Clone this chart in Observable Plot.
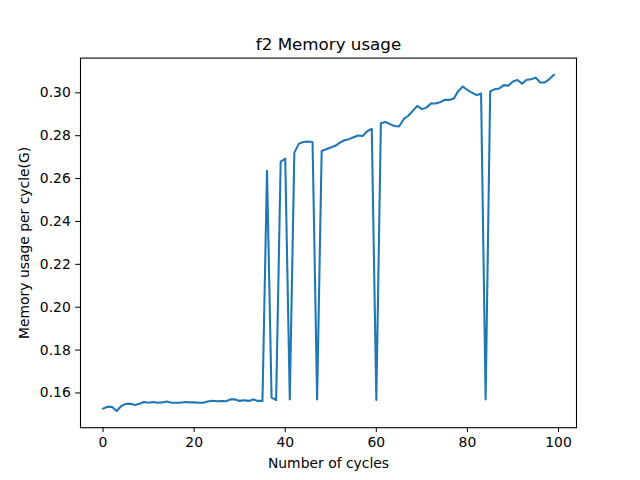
<!DOCTYPE html>
<html>
<head>
<meta charset="utf-8">
<script src="https://cdn.jsdelivr.net/npm/d3@7"></script>
<script src="https://cdn.jsdelivr.net/npm/@observablehq/plot@0.6"></script>
<style>
body { margin: 0; background: #fff; }
svg { font-family: "DejaVu Sans", sans-serif; }
</style>
</head>
<body>
<div id="chart"></div>
<script>
const cycles = d3.range(0, 100);
const memory = [
  0.1527, 0.1536, 0.1535, 0.1516, 0.1539, 0.1549, 0.1550, 0.1544, 0.1550, 0.1558,
  0.1554, 0.1558, 0.1554, 0.1556, 0.1560, 0.1554, 0.1554, 0.1554, 0.1558, 0.1556,
  0.1556, 0.1554, 0.1554, 0.1560, 0.1564, 0.1561, 0.1562, 0.1561, 0.1570, 0.1570,
  0.1563, 0.1566, 0.1563, 0.1570, 0.1563, 0.1563, 0.2636, 0.1578, 0.1567, 0.2679,
  0.2693, 0.1570, 0.2721, 0.2763, 0.2771, 0.2773, 0.2771, 0.1570, 0.2729, 0.2737,
  0.2745, 0.2753, 0.2768, 0.2779, 0.2784, 0.2793, 0.2801, 0.2799, 0.2821, 0.2832,
  0.1567, 0.2858, 0.2864, 0.2854, 0.2845, 0.2843, 0.2877, 0.2893, 0.2916, 0.2939,
  0.2924, 0.2931, 0.2950, 0.2950, 0.2956, 0.2967, 0.2967, 0.2973, 0.3009, 0.3029,
  0.3013, 0.3001, 0.2989, 0.2997, 0.1570, 0.3006, 0.3017, 0.3020, 0.3036, 0.3033,
  0.3053, 0.3060, 0.3043, 0.3061, 0.3063, 0.3071, 0.3048, 0.3048, 0.3064, 0.3084
];
const xTicks = [0, 20, 40, 60, 80, 100];
const yTicks = [0.16, 0.18, 0.20, 0.22, 0.24, 0.26, 0.28, 0.30];
const title = "f2 Memory usage";
const xLabel = "Number of cycles";
const yLabel = "Memory usage per cycle(G)";

const data = cycles.map((c, i) => ({cycle: c, mem: memory[i]}));

const chart = Plot.plot({
  width: 640,
  height: 480,
  marginLeft: 80,
  marginRight: 64,
  marginTop: 57.6,
  marginBottom: 52.8,
  style: {fontSize: "13.9px", fontFamily: "DejaVu Sans, sans-serif", color: "black", background: "white"},
  x: {domain: [-4.95, 103.95], ticks: xTicks, tickSize: 4.86, tickPadding: 4.86, label: xLabel, labelAnchor: "center", labelOffset: 40, labelArrow: "none"},
  y: {domain: [0.1438, 0.3162], ticks: yTicks, tickSize: 4.86, tickPadding: 4.86, tickFormat: ".2f", label: yLabel, labelAnchor: "center", labelOffset: 61, labelArrow: "none"},
  marks: [
    Plot.line(data, {x: "cycle", y: "mem", stroke: "#1f77b4", strokeWidth: 2.08}),
    Plot.frame({stroke: "black", strokeWidth: 1.1}),
    Plot.text([title], {frameAnchor: "top", dy: -8.3, lineAnchor: "bottom", fontSize: 16.7, fill: "black"})
  ]
});
document.getElementById("chart").appendChild(chart);
</script>
</body>
</html>
